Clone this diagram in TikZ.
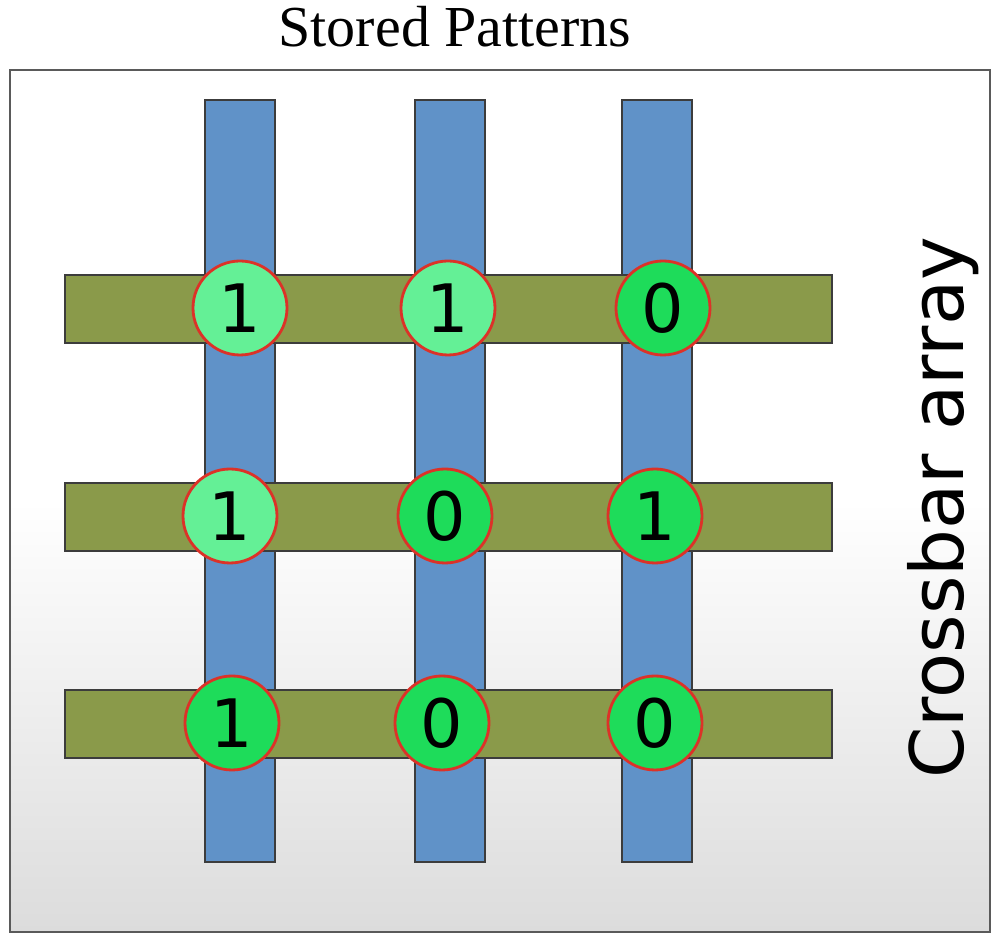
\documentclass[tikz,border=0pt]{standalone}
\usepackage{fontspec}
\setmainfont{Liberation Serif}
\newfontfamily\sansf{DejaVu Sans}
\definecolor{vblue}{RGB}{96,146,200}
\definecolor{olive}{RGB}{138,154,74}
\definecolor{edge}{RGB}{60,60,60}
\definecolor{frame}{RGB}{90,90,90}
\definecolor{lgreen}{RGB}{100,240,150}
\definecolor{dgreen}{RGB}{30,220,90}
\definecolor{cred}{RGB}{220,50,40}
\definecolor{bgbot}{RGB}{220,220,220}
\begin{document}
\begin{tikzpicture}[x=0.1mm,y=-0.1mm,
  vbar/.style={fill=vblue,draw=edge,line width=0.6pt},
  hbar/.style={fill=olive,draw=edge,line width=0.6pt},
  one/.style={circle,minimum size=9.4mm,inner sep=0pt,fill=lgreen,draw=cred,line width=0.8pt,font=\sansf\fontsize{19}{19}\selectfont},
  zero/.style={one,fill=dgreen}]
\useasboundingbox (0,0) rectangle (1000,938);
\node (title) at (455,27) {\fontsize{16.5}{16.5}\selectfont Stored Patterns};
\shade[top color=white,bottom color=bgbot,middle color=white] (10,70) rectangle (990,932);
\draw[frame,line width=0.8pt] (10,70) rectangle (990,932);
\foreach \x in {205,415,622} \draw[vbar] (\x,100) rectangle (\x+70,862);
\foreach \y in {275,483,690} \draw[hbar] (65,\y) rectangle (832,\y+68);
\node[one] (c11) at (240,308) {1};
\node[one] (c12) at (448,308) {1};
\node[zero] (c13) at (663,308) {0};
\node[one] (c21) at (230,516) {1};
\node[zero] (c22) at (445,516) {0};
\node[zero] (c23) at (655,516) {1};
\node[zero] (c31) at (232,723) {1};
\node[zero] (c32) at (442,723) {0};
\node[zero] (c33) at (655,723) {0};
\node[rotate=90] (lab) at (943,508) {\sansf\fontsize{21}{21}\selectfont Crossbar array};
\end{tikzpicture}
\end{document}
